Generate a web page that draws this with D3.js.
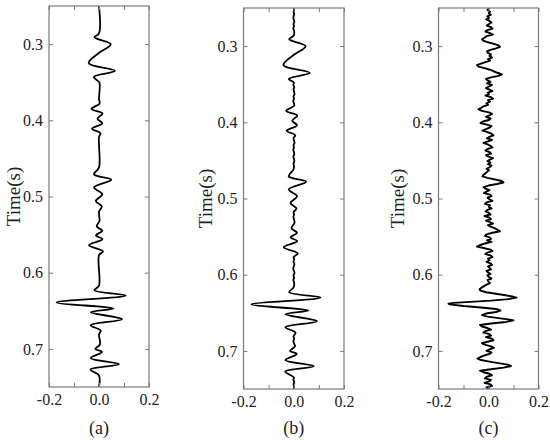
<!DOCTYPE html>
<html>
<head>
<meta charset="utf-8">
<script src="https://cdn.jsdelivr.net/npm/d3@7/dist/d3.min.js"></script>
<style>
  html, body { margin: 0; padding: 0; background: #fff; }
  svg { display: block; }
  text { font-family: "Liberation Serif", "Times New Roman", serif; fill: #222; }
</style>
</head>
<body>
<svg id="chart" width="550" height="440"></svg>
<script>
// ---- data (time in s, amplitude) ----
const timeDomain = [0.25, 0.75];
const ampDomain = [-0.2, 0.2];
const yTickValues = [0.3, 0.4, 0.5, 0.6, 0.7];
const xTickValues = [-0.2, -0.1, 0.0, 0.1, 0.2];
const xTickLabels = ["-0.2", "", "0.0", "", "0.2"];
const panelLabels = ["(a)", "(b)", "(c)"];
const yAxisTitle = "Time(s)";

// (a) clean trace
const traceA = [
  [0.250, 0], [0.286, 0], [0.291, -0.018], [0.300, 0.047], [0.312, -0.002],
  [0.325, -0.041], [0.335, 0.064], [0.343, -0.021], [0.350, 0.001], [0.356, 0.003],
  [0.372, 0], [0.378, 0.002], [0.385, -0.030], [0.391, 0.014], [0.398, -0.006],
  [0.404, 0.013], [0.411, -0.028], [0.417, 0.006], [0.422, 0], [0.462, 0],
  [0.471, -0.020], [0.478, 0.049], [0.488, -0.020], [0.497, 0.013], [0.506, -0.013],
  [0.513, 0.011], [0.520, 0.000], [0.532, 0.002], [0.539, -0.009], [0.545, 0.013],
  [0.551, -0.012], [0.556, 0.014], [0.564, -0.040], [0.572, 0.016], [0.577, 0],
  [0.617, 0], [0.623, -0.018], [0.630, 0.107], [0.639, -0.170], [0.647, 0.058],
  [0.652, -0.033], [0.661, 0.092], [0.669, -0.033], [0.676, 0.007], [0.681, 0],
  [0.694, 0.004], [0.700, -0.015], [0.704, 0.012], [0.712, -0.033], [0.720, 0.080],
  [0.727, -0.034], [0.735, 0], [0.750, 0]
];

// (b) slightly noisy trace
const traceB = [
  [0.250, 0.000], [0.253, 0.0015], [0.255, -0.001], [0.258, 0.002], [0.260, 0.000],
  [0.263, -0.0015], [0.266, 0.001], [0.268, 0.0025], [0.271, -0.001], [0.274, 0.001],
  [0.277, -0.002], [0.279, 0.0005], [0.282, 0.002], [0.286, 0.000],
  [0.291, -0.018], [0.300, 0.047], [0.312, -0.002], [0.325, -0.041], [0.335, 0.064],
  [0.343, -0.020], [0.348, 0.001], [0.351, -0.0015], [0.354, 0.002], [0.357, -0.001],
  [0.360, 0.0015], [0.363, 0.003], [0.366, -0.001], [0.369, 0.001], [0.372, -0.002],
  [0.378, 0.002], [0.385, -0.030],
  [0.391, 0.014], [0.398, -0.006], [0.404, 0.013], [0.411, -0.028], [0.417, 0.006],
  [0.421, -0.001], [0.424, 0.0015], [0.427, 0.003], [0.430, -0.001], [0.433, 0.001],
  [0.436, -0.002], [0.439, 0.0005], [0.442, 0.002], [0.445, -0.0015], [0.448, 0.001],
  [0.451, 0.0025], [0.454, -0.001], [0.457, 0.001], [0.462, -0.001],
  [0.471, -0.020], [0.478, 0.049], [0.488, -0.020], [0.497, 0.013],
  [0.506, -0.013], [0.513, 0.011], [0.518, -0.001], [0.521, 0.002], [0.524, -0.0015],
  [0.527, 0.001], [0.532, 0.003], [0.539, -0.009], [0.545, 0.013], [0.551, -0.012],
  [0.556, 0.014], [0.564, -0.040], [0.572, 0.016], [0.577, -0.001], [0.580, 0.002],
  [0.583, -0.001], [0.586, 0.0025], [0.589, 0.000], [0.592, -0.002], [0.595, 0.001],
  [0.598, 0.003], [0.601, -0.001], [0.604, 0.0015], [0.607, -0.0015], [0.610, 0.001],
  [0.613, 0.002], [0.617, -0.001], [0.623, -0.018], [0.630, 0.107],
  [0.639, -0.168], [0.647, 0.058], [0.652, -0.033], [0.661, 0.092], [0.669, -0.033],
  [0.676, 0.007], [0.681, -0.001], [0.684, 0.002], [0.687, -0.0015], [0.690, 0.001],
  [0.694, 0.005], [0.700, -0.015], [0.704, 0.012], [0.712, -0.033], [0.720, 0.080],
  [0.727, -0.034], [0.735, 0.001], [0.738, -0.0015], [0.741, 0.002], [0.744, -0.001],
  [0.747, 0.0015], [0.750, 0.000]
];

// (c) strongly noisy trace
const traceC = [
  [0.250, 0.003], [0.2525, -0.004], [0.255, 0.006], [0.257, 0.001], [0.259, 0.009],
  [0.261, -0.005], [0.263, 0.002], [0.265, -0.009], [0.267, 0.004], [0.269, 0.012],
  [0.271, 0.002], [0.273, -0.007], [0.275, 0.010], [0.277, 0.016], [0.279, -0.004],
  [0.281, -0.012], [0.283, 0.006], [0.285, 0.018], [0.287, -0.008], [0.289, -0.016],
  [0.291, -0.026], [0.293, -0.020], [0.295, -0.002], [0.297, 0.022], [0.299, 0.040],
  [0.301, 0.046], [0.303, 0.030], [0.305, 0.008], [0.307, -0.006], [0.309, -0.002],
  [0.311, 0.010], [0.313, 0.004], [0.315, 0.014], [0.317, -0.002], [0.319, 0.006],
  [0.321, -0.012], [0.323, -0.030], [0.325, -0.046], [0.327, -0.040], [0.329, -0.016],
  [0.331, 0.006], [0.333, 0.020], [0.335, 0.036], [0.337, 0.054], [0.339, 0.040],
  [0.341, 0.010], [0.343, -0.010], [0.345, -0.004], [0.347, 0.008], [0.349, -0.006],
  [0.351, 0.014], [0.353, 0.002], [0.355, -0.010], [0.357, 0.004], [0.359, 0.016],
  [0.361, -0.004], [0.363, 0.002], [0.365, -0.012], [0.367, 0.010], [0.369, 0.018],
  [0.371, -0.002], [0.373, 0.006], [0.375, -0.008], [0.377, -0.002], [0.379, -0.020],
  [0.381, -0.030], [0.383, -0.040], [0.385, -0.026], [0.387, 0.002], [0.389, 0.014],
  [0.391, 0.004], [0.393, -0.010], [0.395, 0.008], [0.397, 0.002], [0.399, -0.022],
  [0.401, -0.032], [0.403, -0.006], [0.405, 0.012], [0.407, 0.004], [0.409, -0.010],
  [0.411, -0.024], [0.413, -0.004], [0.415, 0.012], [0.417, 0.020], [0.419, 0.004],
  [0.421, -0.006], [0.423, 0.014], [0.425, -0.002], [0.427, -0.020], [0.429, -0.004],
  [0.431, 0.008], [0.433, 0.016], [0.435, -0.004], [0.437, -0.012], [0.439, 0.004],
  [0.441, 0.010], [0.443, -0.010], [0.445, 0.000], [0.447, 0.018], [0.449, 0.006],
  [0.451, -0.004], [0.453, 0.008], [0.455, -0.002], [0.457, 0.012], [0.459, 0.004],
  [0.461, -0.008], [0.463, 0.002], [0.465, -0.006], [0.467, -0.012], [0.469, -0.020],
  [0.471, -0.024], [0.473, -0.004], [0.475, 0.026], [0.477, 0.052], [0.479, 0.060],
  [0.481, 0.034], [0.483, 0.000], [0.485, -0.020], [0.487, -0.012], [0.489, 0.004],
  [0.491, -0.008], [0.493, -0.018], [0.495, 0.006], [0.497, 0.012], [0.499, -0.004],
  [0.501, 0.004], [0.503, 0.016], [0.505, -0.008], [0.507, -0.014], [0.509, 0.006],
  [0.511, 0.002], [0.513, 0.012], [0.515, -0.004], [0.517, -0.012], [0.519, 0.002],
  [0.521, 0.008], [0.523, -0.016], [0.525, 0.004], [0.527, 0.010], [0.529, -0.010],
  [0.531, 0.006], [0.533, 0.018], [0.535, -0.002], [0.537, 0.008], [0.539, 0.024],
  [0.541, 0.036], [0.543, 0.046], [0.545, 0.016], [0.547, -0.008], [0.549, -0.014],
  [0.551, 0.004], [0.553, 0.010], [0.555, -0.006], [0.557, 0.012], [0.559, -0.014],
  [0.561, -0.032], [0.563, -0.046], [0.565, -0.020], [0.567, 0.008], [0.569, 0.016],
  [0.571, -0.004], [0.573, -0.012], [0.575, 0.010], [0.577, 0.016], [0.579, -0.002],
  [0.581, 0.004], [0.583, -0.008], [0.585, 0.008], [0.587, 0.014], [0.589, -0.002],
  [0.591, 0.004], [0.593, 0.010], [0.595, -0.008], [0.597, -0.002], [0.599, 0.008],
  [0.601, -0.004], [0.603, 0.002], [0.605, 0.012], [0.607, -0.004], [0.609, 0.000],
  [0.611, 0.006], [0.613, -0.008], [0.615, -0.018], [0.617, -0.028], [0.619, -0.036],
  [0.621, -0.032], [0.623, -0.010], [0.625, 0.030], [0.627, 0.068], [0.629, 0.100],
  [0.630, 0.112], [0.632, 0.080], [0.634, 0.010], [0.636, -0.090], [0.637, -0.140],
  [0.638, -0.160], [0.639, -0.155], [0.641, -0.100], [0.643, -0.030], [0.645, 0.030],
  [0.647, 0.048], [0.649, 0.030], [0.651, -0.010], [0.653, -0.026], [0.655, -0.004],
  [0.657, 0.040], [0.659, 0.085], [0.660, 0.100], [0.662, 0.070], [0.664, 0.010],
  [0.666, -0.034], [0.668, -0.026], [0.670, -0.004], [0.672, 0.010], [0.674, -0.012],
  [0.676, -0.020], [0.678, 0.004], [0.680, 0.010], [0.682, -0.010], [0.684, 0.014],
  [0.686, 0.020], [0.688, -0.004], [0.690, -0.026], [0.692, -0.012], [0.694, 0.010],
  [0.696, 0.022], [0.698, 0.004], [0.700, -0.008], [0.702, 0.012], [0.704, 0.004],
  [0.706, -0.016], [0.708, -0.032], [0.710, -0.044], [0.712, -0.030], [0.714, 0.004],
  [0.716, 0.040], [0.718, 0.076], [0.720, 0.090], [0.722, 0.060], [0.724, 0.010],
  [0.726, -0.034], [0.728, -0.020], [0.730, 0.004], [0.732, 0.014], [0.734, -0.008],
  [0.736, -0.014], [0.738, 0.010], [0.740, 0.002], [0.742, -0.016], [0.744, 0.008],
  [0.746, 0.014], [0.748, -0.008], [0.750, 0.004]
];

const traces = [traceA, traceB, traceC];
const curves = [d3.curveCatmullRom.alpha(0.5), d3.curveCatmullRom.alpha(0.5), d3.curveLinear];

// ---- layout ----
const panels = [
  { left: 49,    top: 6, width: 100,   height: 381, titleX: 19.5 },
  { left: 243.5, top: 8, width: 100.5, height: 381, titleX: 212 },
  { left: 438.5, top: 8, width: 100,   height: 381, titleX: 404 }
];

const svg = d3.select("#chart");
const frameColor = "#7a7a7a";
const serif = "'Liberation Serif', 'Times New Roman', serif";

panels.forEach((p, i) => {
  const x = d3.scaleLinear().domain(ampDomain).range([p.left, p.left + p.width]);
  const y = d3.scaleLinear().domain(timeDomain).range([p.top, p.top + p.height]);
  const g = svg.append("g");

  const clipId = "clip" + i;
  svg.append("clipPath").attr("id", clipId)
    .append("rect").attr("x", p.left).attr("y", p.top)
    .attr("width", p.width).attr("height", p.height);

  const line = d3.line()
    .x(d => x(d[1]))
    .y(d => y(d[0]))
    .curve(curves[i]);
  g.append("path")
    .datum(traces[i])
    .attr("clip-path", `url(#${clipId})`)
    .attr("fill", "none")
    .attr("stroke", "#000")
    .attr("stroke-width", i === 2 ? 1.9 : 1.8)
    .attr("stroke-linejoin", "round")
    .attr("d", line);

  const left = g.append("g").attr("transform", `translate(${p.left},0)`)
    .call(d3.axisLeft(y).tickValues(yTickValues).tickSizeInner(-4).tickSizeOuter(0)
      .tickPadding(6).tickFormat(d3.format(".1f")));
  const right = g.append("g").attr("transform", `translate(${p.left + p.width},0)`)
    .call(d3.axisRight(y).tickValues(yTickValues).tickSizeInner(-4).tickSizeOuter(0)
      .tickFormat(""));
  const bottom = g.append("g").attr("transform", `translate(0,${p.top + p.height})`)
    .call(d3.axisBottom(x).tickValues(xTickValues).tickSizeInner(-4).tickSizeOuter(0)
      .tickPadding(7).tickFormat((d, k) => xTickLabels[k]));
  const top = g.append("g").attr("transform", `translate(0,${p.top})`)
    .call(d3.axisTop(x).tickValues(xTickValues).tickSizeInner(-4).tickSizeOuter(0)
      .tickFormat(""));

  [left, right, bottom, top].forEach(a => {
    a.attr("font-family", null).attr("font-size", null);
    a.select(".domain").remove();
    a.selectAll(".tick line").attr("stroke", frameColor);
    a.selectAll("text").style("font-family", serif)
      .style("font-size", "16px").attr("fill", "#222");
  });

  g.append("rect")
    .attr("x", p.left).attr("y", p.top)
    .attr("width", p.width).attr("height", p.height)
    .attr("fill", "none").attr("stroke", frameColor).attr("stroke-width", 1.2);

  g.append("text")
    .attr("transform", `translate(${p.titleX},${p.top + p.height / 2}) rotate(-90)`)
    .attr("text-anchor", "middle")
    .style("font-family", serif)
    .style("font-size", "19px")
    .text(yAxisTitle);

  g.append("text")
    .attr("x", p.left + p.width / 2)
    .attr("y", 434)
    .attr("text-anchor", "middle")
    .style("font-family", serif)
    .style("font-size", "18px")
    .text(panelLabels[i]);
});
</script>
</body>
</html>
